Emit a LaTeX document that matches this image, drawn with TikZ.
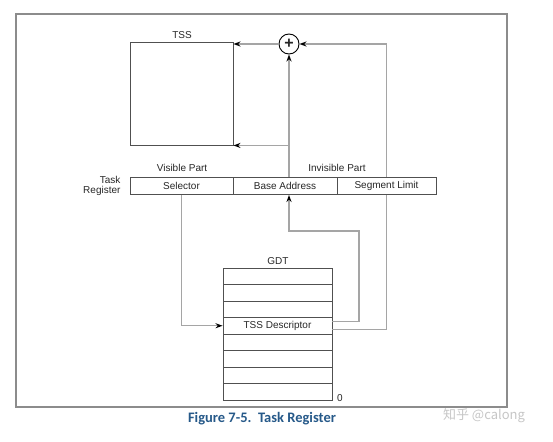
\documentclass[tikz,border=0pt]{standalone}
\usepackage{fontspec}
\setmainfont{Liberation Sans}
\newfontfamily\capfont{Carlito}
\newfontfamily\cjk{Noto Sans CJK SC}
\usepackage{tikz}
\usetikzlibrary{arrows.meta}
\definecolor{linegray}{RGB}{165,165,165}
\definecolor{boxgray}{RGB}{80,80,80}
\definecolor{framegray}{RGB}{140,140,140}
\definecolor{capblue}{RGB}{38,89,137}

\begin{document}
\begin{tikzpicture}[x=1pt,y=-1pt,>={Stealth[length=7pt,width=5pt,black]},text=black!85]
  \tikzstyle{box}=[draw=boxgray,line width=0.9pt,inner sep=0pt]
  \tikzstyle{field}=[box,minimum height=17.5pt]
  \tikzstyle{row}=[box,minimum width=109pt,minimum height=16.5pt]
  \tikzstyle{conn}=[draw=linegray,line width=1.2pt]

  \useasboundingbox (0,0) rectangle (553,441);
  \draw[framegray,line width=1.3pt] (16,14) rectangle (507,407);

  \node[box,minimum width=103pt,minimum height=103pt] (TSS) at (181.5,93.5) {};
  \node (tsslabel) at (182,35) {TSS};
  \node[circle,draw=black,line width=0.9pt,minimum size=20pt,inner sep=0pt] (plus) at (289,44) {\fontsize{16}{16}\selectfont\bfseries +};

  \node[field,minimum width=103pt] (sel) at (181.5,185.75) {Selector};
  \node[field,minimum width=104pt] (base) at (285,185.75) {Base Address};
  \node[field,minimum width=99pt] (limit) at (386.5,185.75) {Segment Limit};
  \node (vis) at (182,168) {Visible Part};
  \node (invis) at (337,168) {Invisible Part};
  \node[align=right,anchor=east,font=\fontsize{10}{10}\selectfont] (treg) at (124,185.5) {Task\\Register};

  \foreach \i in {1,...,8}
    \node[row] (row\i) at (277.5,{268+16.5*(\i-0.5)}) {};
  \node (desc) at (row4) {TSS Descriptor};
  \node (gdt) at (278,261) {GDT};
  \node (zero) at (340,398) {0};
  \coordinate (bend) at (359,231);

  \draw[conn,->] (sel.south) |- (row4.west);
  \draw[conn,->] ([yshift=4pt]row4.east) -| (bend) -| (plus |- base.south);
  \draw[conn,->] (plus |- base.north) -- (plus);
  \draw[conn,->] (plus |- TSS.south) -- (TSS.south east);
  \draw[conn,->] (plus) -- (plus -| TSS.east);
  \draw[conn] ([yshift=-4pt]row4.east) -| (limit.south);
  \draw[conn,->] (limit.north) |- (plus);

  \node[text=capblue,font=\capfont\bfseries\fontsize{14.5}{14.5}\selectfont] (caption) at (262,419) {Figure 7-5.\ \ Task Register};
  \node[text=gray!45,font=\cjk\fontsize{13}{13}\selectfont] (mark) at (484,416) {知乎 @calong};
\end{tikzpicture}
\end{document}
